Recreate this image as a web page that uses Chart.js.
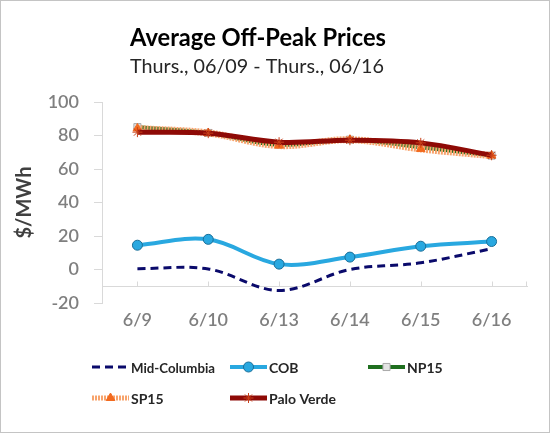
<!DOCTYPE html>
<html>
<head>
<meta charset="utf-8">
<script src="https://cdn.jsdelivr.net/npm/chart.js@4/dist/chart.umd.min.js"></script>
<style>
  html, body { margin: 0; padding: 0; background: #ffffff; }
  canvas { display: block; }
</style>
</head>
<body>
<canvas id="c" width="550" height="433"></canvas>
<script>
// ---- data ----
const categories = ['6/9', '6/10', '6/13', '6/14', '6/15', '6/16'];
const midColumbia = [0.5, 0.3, -12.5, 0, 4, 12.4];
const cob = [14.5, 18, 3.2, 7.4, 13.9, 16.7];
const np15 = [85, 81.5, 74.5, 77.5, 73, 68];
const sp15 = [84.2, 81.5, 74, 77.5, 72, 68];
const paloVerde = [82, 81.4, 76, 77.2, 75.6, 68.2];
const yMin = -20, yMax = 100, yStep = 20;
const xAxisCrossesAt = -10;
const titleText = 'Average Off-Peak Prices';
const subtitleText = 'Thurs., 06/09 - Thurs., 06/16';
const yTitle = '$/MWh';

const FONT = 'Lato, "Open Sans", sans-serif';

const datasets = [
  { label: 'Mid-Columbia', data: midColumbia, borderColor: '#0a0a6b', backgroundColor: '#0a0a6b',
    borderWidth: 3, borderDash: [8, 5], pointRadius: 0, pointStyle: false, tension: 0.35, order: 0 },
  { label: 'COB', data: cob, borderColor: '#29a8e0', backgroundColor: '#29a8e0',
    borderWidth: 4, pointStyle: 'circle', pointRadius: 5, pointBackgroundColor: '#29a8e0',
    pointBorderColor: '#1a6f99', pointBorderWidth: 1, tension: 0.35, order: 0 },
  { label: 'NP15', data: np15, borderColor: '#1f6f1f', backgroundColor: '#1f6f1f',
    borderWidth: 4, pointStyle: 'rect', pointRadius: 5, pointBackgroundColor: '#e4e4e4',
    pointBorderColor: '#a9a9a9', pointBorderWidth: 1, tension: 0.35, order: 3 },
  { label: 'SP15', data: sp15, borderColor: '#f7a36c', backgroundColor: '#f7a36c',
    borderWidth: 7, borderDash: [2, 1], pointStyle: 'triangle', pointRadius: 5,
    pointBackgroundColor: '#f26a1f', pointBorderColor: '#f26a1f', pointBorderWidth: 1, tension: 0.35, order: 2 },
  { label: 'Palo Verde', data: paloVerde, borderColor: '#8e0a06', backgroundColor: '#8e0a06',
    borderWidth: 5, pointStyle: 'star', pointRadius: 5, pointBackgroundColor: '#c8401a',
    pointBorderColor: '#c8401a', pointBorderWidth: 1, tension: 0.35, order: 1 }
];

// legend grid layout (3 columns)
const legendCols = [92, 230, 368];
const legendRows = [367, 398];
const legendSample = 37;

const decorPlugin = {
  id: 'decor',
  beforeDraw(chart) {
    const ctx = chart.ctx;
    ctx.save();
    ctx.fillStyle = '#ffffff';
    ctx.fillRect(0, 0, chart.width, chart.height);
    ctx.strokeStyle = '#c4c4c4';
    ctx.lineWidth = 1;
    ctx.strokeRect(0.5, 0.5, chart.width - 1, chart.height - 1);
    ctx.restore();
  },
  afterDraw(chart) {
    const ctx = chart.ctx;
    ctx.save();
    // titles
    ctx.textAlign = 'center';
    ctx.textBaseline = 'middle';
    ctx.fillStyle = '#000000';
    ctx.font = 'bold 24px ' + FONT;
    ctx.fillText(titleText, 258, 38, 256);
    ctx.fillStyle = '#262626';
    ctx.font = '20px ' + FONT;
    ctx.fillText(subtitleText, 257, 67, 254);

    // x-axis tick marks (inward, at category centres and right end)
    const xs = chart.scales.x, ys = chart.scales.y;
    const axisY = Math.round(ys.getPixelForValue(xAxisCrossesAt)) + 0.5;
    ctx.strokeStyle = '#d9d9d9';
    ctx.lineWidth = 1;
    ctx.beginPath();
    for (let i = 0; i < categories.length; i++) {
      const px = Math.round(xs.getPixelForValue(i)) + 0.5;
      ctx.moveTo(px, axisY); ctx.lineTo(px, axisY - 5);
    }
    ctx.moveTo(Math.round(xs.right) - 0.5, axisY); ctx.lineTo(Math.round(xs.right) - 0.5, axisY - 5);
    ctx.stroke();

    // legend
    ctx.textAlign = 'left';
    ctx.textBaseline = 'middle';
    ctx.font = 'bold 14px ' + FONT;
    chart.data.datasets.forEach((ds, i) => {
      const col = i % 3, row = Math.floor(i / 3);
      const x0 = legendCols[col], y = legendRows[row];
      ctx.save();
      ctx.strokeStyle = ds.borderColor;
      ctx.lineWidth = Math.min(ds.borderWidth, 5);
      ctx.setLineDash(ds.borderDash || []);
      ctx.beginPath();
      ctx.moveTo(x0, y); ctx.lineTo(x0 + legendSample, y);
      ctx.stroke();
      ctx.setLineDash([]);
      if (ds.pointStyle) {
        ctx.fillStyle = ds.pointBackgroundColor;
        ctx.strokeStyle = ds.pointBorderColor;
        ctx.lineWidth = ds.pointBorderWidth;
        Chart.helpers.drawPoint(ctx, { pointStyle: ds.pointStyle, radius: ds.pointRadius, rotation: 0, borderWidth: ds.pointBorderWidth },
          x0 + legendSample / 2, y);
      }
      ctx.restore();
      ctx.fillStyle = '#262626';
      ctx.fillText(ds.label, x0 + legendSample + 2, y + 1, 84);
    });
    ctx.restore();
  }
};

new Chart(document.getElementById('c'), {
  type: 'line',
  data: { labels: categories, datasets },
  options: {
    responsive: false,
    devicePixelRatio: 1,
    animation: false,
    layout: { padding: { top: 102, bottom: 130, left: 0, right: 23 } },
    plugins: { legend: { display: false }, tooltip: { enabled: false }, title: { display: false } },
    scales: {
      x: {
        type: 'category',
        offset: true,
        position: { y: xAxisCrossesAt },
        grid: { display: false },
        border: { display: true, color: '#d9d9d9', width: 1 },
        ticks: { color: '#7f7f7f', font: { family: FONT, size: 18, weight: '600' }, padding: 15, maxRotation: 0 }
      },
      y: {
        min: yMin, max: yMax,
        ticks: { stepSize: yStep, color: '#7f7f7f', font: { family: FONT, size: 18, weight: '600' }, padding: 15 },
        grid: { drawOnChartArea: false, color: '#d9d9d9', tickLength: 8 },
        border: { display: true, color: '#d9d9d9', width: 1 },
        title: { display: true, text: yTitle, color: '#404040', font: { family: FONT, size: 20, weight: 'bold' }, padding: { top: 13, bottom: 0 } },
        afterFit(scale) { scale.width = 102; }
      }
    }
  },
  plugins: [decorPlugin]
});
</script>
</body>
</html>
